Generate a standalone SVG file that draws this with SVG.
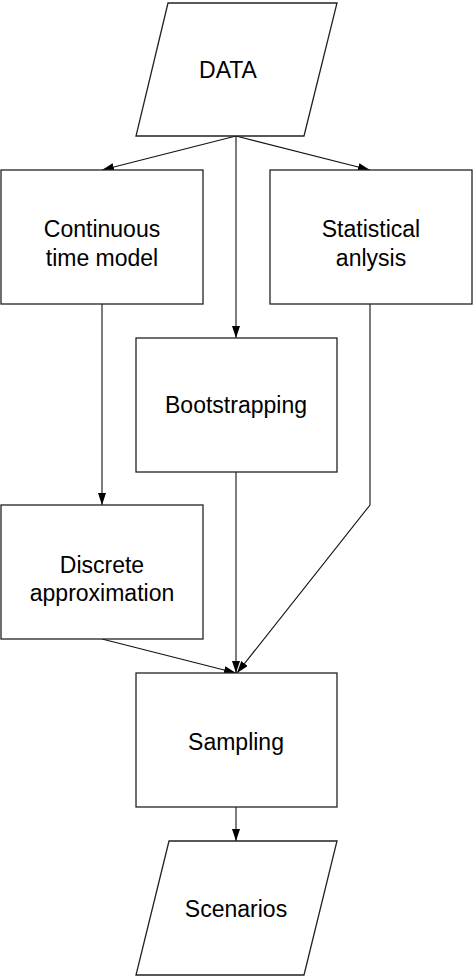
<svg xmlns="http://www.w3.org/2000/svg" width="474" height="977" viewBox="0 0 474 977">
<style>
.n{fill:#fff;stroke:#222;stroke-width:1.3}
.t{font-family:"Liberation Sans",Arial,sans-serif;font-size:23px;fill:#000;text-anchor:middle}
.c{fill:none;stroke:#111;stroke-width:1.1}
</style>
<defs>
<marker id="ah" viewBox="0 0 12 8" refX="12" refY="4" markerWidth="12" markerHeight="8" markerUnits="userSpaceOnUse" orient="auto">
<path d="M0,0 L12,4 L0,8 Z" fill="#000"/>
</marker>
</defs>
<rect width="474" height="977" fill="#fff"/>
<g id="connectors">
<path class="c" d="M236,136 L102,170" marker-end="url(#ah)"/>
<path class="c" d="M236,136 L370,170" marker-end="url(#ah)"/>
<path class="c" d="M236,136 L236,338" marker-end="url(#ah)"/>
<path class="c" d="M102,304 L102,505" marker-end="url(#ah)"/>
<path class="c" d="M236,472 L236,673" marker-end="url(#ah)"/>
<path class="c" d="M370,304 L370,505 L237,673" marker-end="url(#ah)"/>
<path class="c" d="M102,639 L236,673" marker-end="url(#ah)"/>
<path class="c" d="M236,807 L236,841" marker-end="url(#ah)"/>
</g>
<g id="data">
<polygon class="n" points="168,3 337,3 304,136 136,136"/>
<text class="t" x="228" y="78">DATA</text>
</g>
<g id="continuous">
<rect class="n" x="1" y="170" width="202" height="134"/>
<text class="t" x="102" y="237">Continuous</text>
<text class="t" x="102" y="266">time model</text>
</g>
<g id="statistical">
<rect class="n" x="270" y="170" width="202" height="134"/>
<text class="t" x="371" y="237">Statistical</text>
<text class="t" x="371" y="266">anlysis</text>
</g>
<g id="bootstrapping">
<rect class="n" x="136" y="338" width="201" height="134"/>
<text class="t" x="236" y="413">Bootstrapping</text>
</g>
<g id="discrete">
<rect class="n" x="1" y="505" width="202" height="134"/>
<text class="t" x="102" y="573">Discrete</text>
<text class="t" x="102" y="601">approximation</text>
</g>
<g id="sampling">
<rect class="n" x="136" y="673" width="201" height="134"/>
<text class="t" x="236" y="750">Sampling</text>
</g>
<g id="scenarios">
<polygon class="n" points="169,841 337,841 304,975 136,975"/>
<text class="t" x="236" y="917">Scenarios</text>
</g>
</svg>
